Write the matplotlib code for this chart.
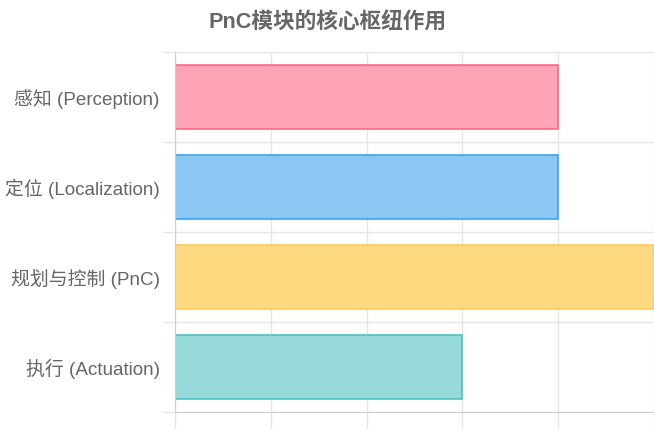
import matplotlib.pyplot as plt

plt.rcParams['font.family'] = ['Liberation Sans', 'Noto Sans CJK SC', 'DejaVu Sans']

# data
categories = ['感知 (Perception)', '定位 (Localization)', '规划与控制 (PnC)', '执行 (Actuation)']
values = [4, 4, 5, 3]
title = 'PnC模块的核心枢纽作用'

# styles
fill_colors = ['#ffa1b5', '#86c7f3', '#ffd87b', '#93d9d9']
edge_colors = ['#ff6384', '#36a2eb', '#fccb55', '#4bc0c0']
grid_col = '#e5e5e5'
axis_col = '#cfcfcf'
text_col = '#666666'

fig = plt.figure(figsize=(6.54, 4.29), dpi=100)
ax = fig.add_axes([175 / 654, 1 - 412 / 429, 479 / 654, 360 / 429])

ypos = list(range(len(categories)))
ax.barh(ypos, values, height=0.72, color=fill_colors, edgecolor=edge_colors,
        linewidth=1.2, alpha=0.97, zorder=2)

ax.set_xlim(0, 5)
ax.set_ylim(len(categories) - 0.5, -0.5)

# category boundaries as gridlines (offset grid)
ax.set_yticks([i + 0.5 for i in range(-1, len(categories))], minor=False)
ax.set_yticklabels([])
ax.set_yticks(ypos, minor=True)
ax.set_yticklabels(categories, minor=True)
ax.tick_params(axis='y', which='major', length=8.6, color=grid_col, width=1)
ax.tick_params(axis='y', which='minor', length=0, pad=11, labelsize=13.6, labelcolor=text_col)

ax.set_xticks(range(0, 6))
ax.set_xticklabels([])
ax.tick_params(axis='x', length=12.5, color=grid_col, width=1)

ax.grid(True, which='major', color=grid_col, linewidth=1, zorder=0)
ax.set_axisbelow(True)

for s in ['top', 'right']:
    ax.spines[s].set_visible(False)
ax.spines['left'].set_color(axis_col)
ax.spines['bottom'].set_color(axis_col)

fig.text(327 / 654, 1 - 23 / 429, title, ha='center', va='center',
         fontsize=15.6, fontweight='bold', color=text_col)

plt.savefig('out.png', dpi=100)
